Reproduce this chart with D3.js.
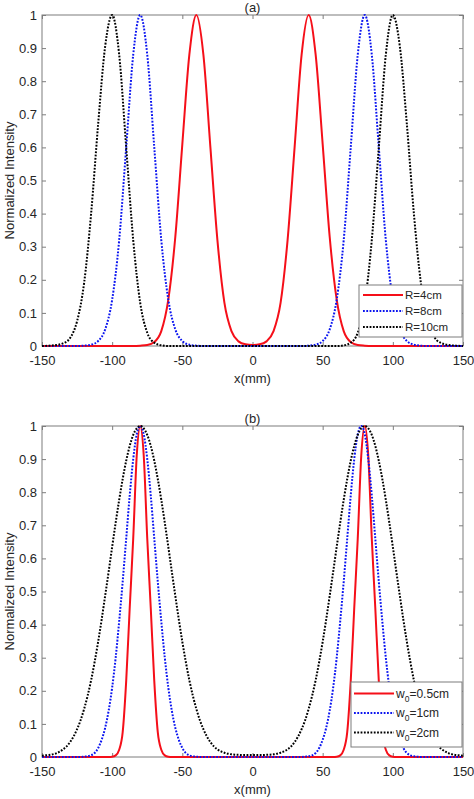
<!DOCTYPE html>
<html><head><meta charset="utf-8">
<script src="https://cdn.jsdelivr.net/npm/d3@7"></script>
<style>
body{margin:0;background:#fff}
text{font-family:"Liberation Sans",Arial,Helvetica,sans-serif;fill:#262626}
</style>
</head><body>
<svg id="c" width="474" height="799"></svg>
<script>
// ---------- data ----------
const xTicks = [-150,-100,-50,0,50,100,150];
const xTickLabels = ["-150","-100","-50","0","50","100","150"];
const yTicks = [0,0.1,0.2,0.3,0.4,0.5,0.6,0.7,0.8,0.9,1];
const yTickLabels = ["0","0.1","0.2","0.3","0.4","0.5","0.6","0.7","0.8","0.9","1"];

// panel (a) samples, x in mm
const xA = [-150,-145,-140,-135,-130,-125,-120,-115,-110,-105,
            -100,-95,-90,-85,-80,-75,-70,-65,-60,-55,
            -50,-45,-40,-35,-30,-25,-20,-15,-10,-5,
            0,
            5,10,15,20,25,30,35,40,45,50,
            55,60,65,70,75,80,85,90,95,100,
            105,110,115,120,125,130,135,140,145,150];
const redA = [0,0,0,0,0,0,0,0,0,0,
              0,0,0,0,0.001,0.003,0.012,0.045,0.14,0.33,
              0.61,0.88,1,0.88,0.60,0.32,0.13,0.045,0.014,0.005,
              0.003,
              0.005,0.014,0.045,0.13,0.32,0.60,0.88,1,0.88,0.61,
              0.33,0.14,0.045,0.012,0.003,0.001,0,0,0,0,
              0,0,0,0,0,0,0,0,0,0];
const blueA = [0,0,0,0,0,0,0.001,0.004,0.015,0.05,
               0.14,0.32,0.60,0.88,1,0.88,0.60,0.32,0.14,0.05,
               0.015,0.004,0.001,0,0,0,0,0,0,0,
               0,
               0,0,0,0,0,0,0,0.001,0.004,0.015,
               0.05,0.14,0.32,0.60,0.88,1,0.88,0.60,0.32,0.14,
               0.05,0.015,0.004,0.001,0,0,0,0,0,0];
const blackA = [0,0.001,0.003,0.008,0.024,0.075,0.19,0.40,0.67,0.905,
                1,0.88,0.60,0.32,0.13,0.04,0.01,0.002,0,0,
                0,0,0,0,0,0,0,0,0,0,
                0,
                0,0,0,0,0,0,0,0,0,0,
                0,0,0.002,0.01,0.04,0.13,0.32,0.60,0.88,1,
                0.905,0.67,0.40,0.19,0.075,0.024,0.008,0.003,0.001,0];

// panel (b) samples, x in mm
const xB = [-150,-147.5,-145,-142.5,-140,-137.5,-135,-132.5,-130,-127.5,
            -125,-122.5,-120,-117.5,-115,-112.5,-110,-107.5,-105,-102.5,
            -100,-97.5,-95,-92.5,-90,-87.5,-85,-82.5,-80,-77.5,
            -75,-72.5,-70,-67.5,-65,-62.5,-60,-57.5,-55,-52.5,
            -50,-47.5,-45,-42.5,-40,-37.5,-35,-32.5,-30,-27.5,
            -25,-22.5,-20,-17.5,-15,-12.5,-10,-7.5,-5,-2.5,
            0,
            2.5,5,7.5,10,12.5,15,17.5,20,22.5,25,
            27.5,30,32.5,35,37.5,40,42.5,45,47.5,50,
            52.5,55,57.5,60,62.5,65,67.5,70,72.5,75,
            77.5,80,82.5,85,87.5,90,92.5,95,97.5,100,
            102.5,105,107.5,110,112.5,115,117.5,120,122.5,125,
            127.5,130,132.5,135,137.5,140,142.5,145,147.5,150];
const redB = [0,0,0,0,0,0,0,0,0,0,
              0,0,0,0,0,0,0,0,0,0,
              0.001,0.005,0.022,0.075,0.23,0.45,0.66,0.91,1,0.91,
              0.66,0.45,0.23,0.075,0.022,0.005,0.001,0,0,0,
              0,0,0,0,0,0,0,0,0,0,
              0,0,0,0,0,0,0,0,0,0,
              0,
              0,0,0,0,0,0,0,0,0,0,
              0,0,0,0,0,0,0,0,0,0,
              0,0,0,0.001,0.005,0.022,0.075,0.23,0.45,0.66,
              0.91,1,0.91,0.66,0.45,0.23,0.075,0.022,0.005,0.001,
              0,0,0,0,0,0,0,0,0,0,
              0,0,0,0,0,0,0,0,0,0];
const blueB = [0,0,0,0,0,0,0,0,0,0,
               0,0,0.001,0.002,0.005,0.012,0.027,0.052,0.088,0.14,
               0.21,0.30,0.41,0.53,0.66,0.79,0.90,0.975,1,0.975,
               0.90,0.79,0.66,0.53,0.41,0.30,0.21,0.14,0.088,0.052,
               0.027,0.012,0.005,0.002,0.001,0,0,0,0,0,
               0,0,0,0,0,0,0,0,0,0,
               0,
               0,0,0,0,0,0,0,0,0,0,
               0,0,0,0,0.001,0.002,0.005,0.012,0.027,0.052,
               0.088,0.14,0.21,0.30,0.41,0.53,0.66,0.79,0.90,0.975,
               1,0.975,0.90,0.79,0.66,0.53,0.41,0.30,0.21,0.14,
               0.088,0.052,0.027,0.012,0.005,0.002,0.001,0,0,0,
               0,0,0,0,0,0,0,0,0,0];
const blackB = [0.004,0.005,0.006,0.008,0.011,0.016,0.023,0.032,0.045,0.062,
                0.084,0.111,0.145,0.185,0.232,0.287,0.348,0.415,0.487,0.56,
                0.635,0.708,0.777,0.84,0.895,0.94,0.973,0.993,1,0.993,
                0.973,0.94,0.895,0.84,0.777,0.708,0.635,0.56,0.487,0.415,
                0.348,0.287,0.232,0.185,0.145,0.111,0.084,0.062,0.045,0.032,
                0.023,0.017,0.013,0.010,0.008,0.007,0.0065,0.006,0.006,0.006,
                0.006,
                0.006,0.006,0.006,0.0065,0.007,0.008,0.010,0.013,0.017,0.023,
                0.032,0.045,0.062,0.084,0.111,0.145,0.185,0.232,0.287,0.348,
                0.415,0.487,0.56,0.635,0.708,0.777,0.84,0.895,0.94,0.973,
                0.993,1,0.993,0.973,0.94,0.895,0.84,0.777,0.708,0.635,
                0.56,0.487,0.415,0.348,0.287,0.232,0.185,0.145,0.111,0.084,
                0.062,0.045,0.032,0.023,0.016,0.011,0.008,0.006,0.005,0.004];

const seriesNamesA = ["R=4cm","R=8cm","R=10cm"];
const seriesNamesB = [["w","0","=0.5cm"],["w","0","=1cm"],["w","0","=2cm"]];
const titles = ["(a)","(b)"];
const xLabel = "x(mm)";
const yLabel = "Normalized Intensity";

// ---------- styles ----------
const RED = "#f50f19", BLUE = "#0a14f0", BLACK = "#000";
const styles = [
  {color: RED, dash: null},
  {color: BLUE, dash: "1.8,1.5"},
  {color: BLACK, dash: "1.8,1.5"}
];
const AXC = "#7d7d7d";

// ---------- drawing ----------
const svg = d3.select("#c");
svg.append("rect").attr("width",474).attr("height",799).attr("fill","#fff");
const L = 42, R = 463;
const x = d3.scaleLinear().domain([-150,150]).range([L,R]);

function drawPanel(top, bottom, title, xs, ys, legend) {
  const y = d3.scaleLinear().domain([0,1]).range([bottom, top]);
  const g = svg.append("g");

  g.append("rect").attr("x",L).attr("y",top).attr("width",R-L).attr("height",bottom-top)
    .attr("fill","#fff").attr("stroke",AXC).attr("stroke-width",1);

  const ax = (a) => a.call(s => s.select(".domain").remove())
                     .call(s => s.selectAll(".tick line").attr("stroke",AXC))
                     .call(s => s.selectAll(".tick text").attr("fill","#262626")
                         .style("font-size","13px").style("font-family","'Liberation Sans',Arial,sans-serif"));

  g.append("g").attr("transform",`translate(0,${bottom})`)
    .call(d3.axisBottom(x).tickValues(xTicks).tickFormat((d,i)=>xTickLabels[i]).tickSize(-4).tickPadding(10)).call(ax);
  g.append("g").attr("transform",`translate(0,${top})`)
    .call(d3.axisTop(x).tickValues(xTicks).tickFormat("").tickSize(-4)).call(ax);
  g.append("g").attr("transform",`translate(${L},0)`)
    .call(d3.axisLeft(y).tickValues(yTicks).tickFormat((d,i)=>yTickLabels[i]).tickSize(-4).tickPadding(5)).call(ax);
  g.append("g").attr("transform",`translate(${R},0)`)
    .call(d3.axisRight(y).tickValues(yTicks).tickFormat("").tickSize(-4)).call(ax);

  const line = d3.line().x((d,i)=>x(xs[i])).y(d=>y(d)).curve(d3.curveMonotoneX);
  ys.forEach((vals, k) => {
    g.append("path").datum(vals).attr("d", line)
      .attr("fill","none").attr("stroke", styles[k].color).attr("stroke-width", 2)
      .attr("stroke-dasharray", styles[k].dash);
  });

  g.append("text").attr("x",(L+R)/2).attr("y",top-3).attr("text-anchor","middle")
    .style("font-size","13px").text(title);
  g.append("text").attr("x",(L+R)/2).attr("y",bottom+37).attr("text-anchor","middle")
    .style("font-size","13px").text(xLabel);
  g.append("text").attr("transform",`translate(14,${(top+bottom)/2}) rotate(-90)`)
    .attr("text-anchor","middle").style("font-size","13px").text(yLabel);

  // legend
  const lg = g.append("g");
  lg.append("rect").attr("x",legend.x).attr("y",legend.y).attr("width",legend.w).attr("height",legend.h)
    .attr("fill","#fff").attr("stroke",AXC).attr("stroke-width",1);
  legend.names.forEach((nm, k) => {
    const cy = legend.y + legend.first + k*legend.step;
    lg.append("line").attr("x1",legend.x+legend.l1).attr("x2",legend.x+legend.l2)
      .attr("y1",cy).attr("y2",cy).attr("stroke",styles[k].color).attr("stroke-width",2)
      .attr("stroke-dasharray",styles[k].dash);
    const t = lg.append("text").attr("x",legend.x+legend.tx).attr("y",cy+4)
      .style("font-size",legend.fs+"px");
    if (typeof nm === "string") {
      t.text(nm);
    } else {
      t.append("tspan").text(nm[0]);
      t.append("tspan").attr("dy",4).style("font-size","8.5px").text(nm[1]);
      t.append("tspan").attr("dy",-4).text(nm[2]);
    }
  });
}

drawPanel(15, 346, titles[0], xA, [redA, blueA, blackA],
  {x:359, y:285, w:103, h:52, first:10, step:16, l1:4, l2:44, tx:46, fs:11.5, names:seriesNamesA});
drawPanel(426, 757, titles[1], xB, [redB, blueB, blackB],
  {x:351, y:682, w:111, h:65, first:11.5, step:19.5, l1:3, l2:43, tx:45, fs:12, names:seriesNamesB});
</script>
</body></html>
